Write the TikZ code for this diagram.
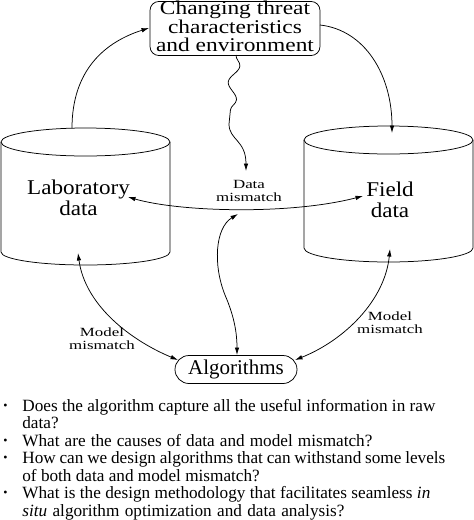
\documentclass[tikz,border=0pt]{standalone}
\usepackage{fontspec}
\usepackage{graphicx}
\setmainfont{Liberation Serif}
\usetikzlibrary{arrows.meta,shapes.misc,decorations.pathmorphing}
\newcommand{\bul}{{\fontsize{12}{12}\selectfont\raisebox{2pt}{•}}}
\newcommand{\xsc}[2]{\scalebox{#1}[1]{#2}}
\newcommand{\wline}[2]{\makebox[#1][s]{#2}}
\begin{document}
\begin{tikzpicture}[x=1pt,y=-1pt,line width=0.75pt,
  arr/.style={-{Latex[length=7.5pt,width=4.5pt]}},
  darr/.style={{Latex[length=7.5pt,width=4.5pt]}-{Latex[length=7.5pt,width=4.5pt]}},
  lbl/.style={inner sep=0, align=center, font=\fontsize{12.5}{13}\selectfont},
  cyltext/.style={inner sep=0, align=center, font=\fontsize{21}{20.5}\selectfont}]
\useasboundingbox (0,0) rectangle (474,520);

% cylinders
\draw (85.5,142) ellipse[x radius=84.5, y radius=14];
\draw (1,142) -- (1,252) arc[start angle=180, end angle=0, x radius=84.5, y radius=13] -- (170,142);
\draw (388.5,140) ellipse[x radius=84.5, y radius=14];
\draw (304,140) -- (304,248) arc[start angle=180, end angle=0, x radius=84.5, y radius=14] -- (473,140);

% nodes
\node[draw, rounded corners=9pt, minimum width=170, minimum height=53, inner sep=0,
      font=\fontsize{19.5}{15}\selectfont] (threat) at (235,28.5)
  {\xsc{1.2}{\begin{tabular}{@{}c@{}}Changing threat\\characteristics\\and environment\end{tabular}}};
\node[cyltext] (lab) at (78.5,200.5)
  {\xsc{1.1}{\begin{tabular}{@{}c@{}}Laboratory\\data\end{tabular}}};
\node[cyltext] (field) at (390,202.5)
  {\xsc{1.1}{\begin{tabular}{@{}c@{}}Field\\data\end{tabular}}};
\node[draw, rounded rectangle, minimum width=122, minimum height=28, inner sep=0,
      font=\fontsize{21}{21}\selectfont] (alg) at (236,369.5) {Algorithms};
\node[lbl] (dm) at (249,192) {\xsc{1.35}{\begin{tabular}{@{}c@{}}Data\\mismatch\end{tabular}}};
\node[lbl] (mml) at (102,340.5) {\xsc{1.35}{\begin{tabular}{@{}c@{}}Model\\mismatch\end{tabular}}};
\node[lbl] (mmr) at (390,324) {\xsc{1.35}{\begin{tabular}{@{}c@{}}Model\\mismatch\end{tabular}}};

% connector end points
\coordinate (labtop) at (72,128.2);
\coordinate (threatL) at (149,28);
\coordinate (threatR) at (320,25);
\coordinate (fieldtop) at (392,133);
\coordinate (wigA) at (236,55);
\coordinate (wigB) at (229,124);
\coordinate (dmtip) at (246,171);
\coordinate (labR) at (128,197);
\coordinate (fieldL) at (363,196);
\coordinate (midtip) at (238,214);
\coordinate (algtop) at (237,355);
\coordinate (labbot) at (78,253);
\coordinate (algL) at (178,360);
\coordinate (fieldbot) at (390,249);
\coordinate (algR) at (295,360);

% connectors
\draw[arr] (labtop) .. controls (72,70) and (105,42) .. (threatL);
\draw[arr] (threatR) .. controls (365,30) and (392,75) .. (fieldtop);
\draw[decorate, decoration={snake, segment length=34, amplitude=5}] (wigA) -- (wigB);
\draw[arr] (wigB) .. controls (229,140) and (246,140) .. (dmtip);
\draw[darr] (labR) .. controls (180,212) and (290,215) .. (fieldL);
\draw[darr] (midtip) .. controls (215,228) and (213,265) .. (225,295) .. controls (235,318) and (237,335) .. (algtop);
\draw[darr] (labbot) .. controls (85,305) and (130,340) .. (algL);
\draw[darr] (fieldbot) .. controls (385,300) and (345,340) .. (algR);

% questions
\node[anchor=base west, inner sep=0, font=\fontsize{17.2}{17.5}\selectfont] (qs) at (3,411)
 {\begin{tabular}[t]{@{}p{19pt}@{}l@{}}
 \bul & \wline{413pt}{Does the algorithm capture all the useful information in raw}\\
      & data?\\
 \bul & \wline{350pt}{What are the causes of data and model mismatch?}\\
 \bul & \wline{423pt}{How can we design algorithms that can withstand some levels}\\
      & of both data and model mismatch?\\
 \bul & \wline{408pt}{What is the design methodology that facilitates seamless \textit{in}}\\
      & \wline{322pt}{\textit{situ} algorithm optimization and data analysis?}
 \end{tabular}};
\end{tikzpicture}
\end{document}
